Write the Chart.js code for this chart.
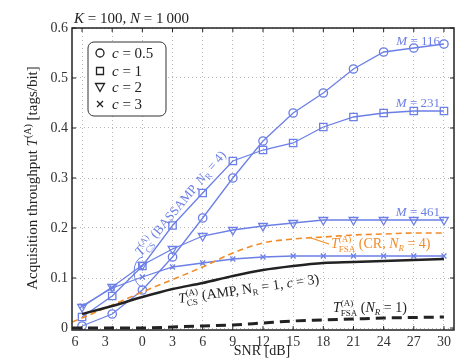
<!DOCTYPE html>
<html>
<head>
<meta charset="utf-8">
<script src="https://cdn.jsdelivr.net/npm/chart.js@4.4.0/dist/chart.umd.min.js"></script>
<style>
  html, body { margin: 0; padding: 0; background: #fff; }
  #wrap { width: 474px; height: 363px; }
</style>
</head>
<body>
<div id="wrap"><canvas id="chart" width="474" height="363"></canvas></div>
<script>
'use strict';

// SNR grid of the simulated points
var snr = [-6, -3, 0, 3, 6, 9, 12, 15, 18, 21, 24, 27, 30];
var snrFsa = [-7, -6, -3, 0, 3, 6, 9, 12, 15, 18, 21, 24, 27, 30];

// BASSAMP, N_R = 4
var csC05 = [0.004, 0.028, 0.076, 0.142, 0.22, 0.30, 0.374, 0.43, 0.47, 0.518, 0.552, 0.56, 0.568];
var csC1 = [0.022, 0.064, 0.124, 0.205, 0.27, 0.334, 0.356, 0.37, 0.402, 0.422, 0.43, 0.434, 0.434];
var csC2 = [0.042, 0.082, 0.126, 0.158, 0.184, 0.196, 0.204, 0.21, 0.216, 0.216, 0.216, 0.216, 0.216];
var csC3 = [0.044, 0.08, 0.102, 0.122, 0.13, 0.138, 0.142, 0.144, 0.144, 0.144, 0.144, 0.144, 0.144];

// AMP, N_R = 1, c = 3
var ampC3 = [0.028, 0.044, 0.062, 0.078, 0.09, 0.104, 0.116, 0.124, 0.13, 0.132, 0.134, 0.136, 0.138];

// FSA curves
var fsaCr = [0.012, 0.02, 0.046, 0.072, 0.097, 0.122, 0.15, 0.17, 0.178, 0.182, 0.186, 0.188, 0.19, 0.19];
var fsa1 = [0, 0, 0, 0, 0.002, 0.004, 0.006, 0.01, 0.014, 0.016, 0.018, 0.02, 0.021, 0.022];

var xTicks = [-6, -3, 0, 3, 6, 9, 12, 15, 18, 21, 24, 27, 30];
var yTicks = [0, 0.1, 0.2, 0.3, 0.4, 0.5, 0.6];

var blue = '#6b7fe6';
var orange = '#f08c28';
var dark = '#222';
var serif = '"Liberation Serif", "DejaVu Serif", serif';

function f(size, italic) {
    return (italic ? 'italic ' : '') + size + 'px ' + serif;
}

function pts(xs, ys) {
    return xs.map(function (x, i) { return {x: x, y: ys[i]}; });
}

// draws runs of text: [text, font, dy, stackOnPrevious]
function rich(ctx, runs, x, y, o) {
    o = o || {};
    ctx.save();
    ctx.translate(x, y);
    if (o.rot) ctx.rotate(o.rot * Math.PI / 180);
    ctx.fillStyle = o.color || dark;
    ctx.textBaseline = 'alphabetic';
    ctx.textAlign = 'left';
    var cx = 0, ps = 0, pe = 0, items = [];
    runs.forEach(function (r) {
        ctx.font = r[1];
        var w = ctx.measureText(r[0]).width;
        var sx = r[3] ? ps : cx;
        var e = sx + w;
        items.push([r[0], r[1], sx, r[2] || 0]);
        cx = r[3] ? Math.max(pe, e) : e;
        ps = sx;
        pe = e;
    });
    var off = o.align === 'center' ? -cx / 2 : (o.align === 'right' ? -cx : 0);
    items.forEach(function (it) {
        ctx.font = it[1];
        ctx.fillText(it[0], off + it[2], it[3]);
    });
    ctx.restore();
}

function tSym(s, sub) {
    return [['T', f(s, true)], ['(A)', f(Math.round(s * 0.66)), -s * 0.42],
        [sub, f(Math.round(s * 0.66)), s * 0.3, true]];
}

function marker(ctx, style, x, y) {
    ctx.save();
    ctx.strokeStyle = dark;
    ctx.lineWidth = 1.3;
    ctx.beginPath();
    if (style === 'circle') {
        ctx.arc(x, y, 4, 0, Math.PI * 2);
    } else if (style === 'rect') {
        ctx.rect(x - 3.5, y - 3.5, 7, 7);
    } else if (style === 'triangle') {
        ctx.moveTo(x - 4.5, y - 3.5);
        ctx.lineTo(x + 4.5, y - 3.5);
        ctx.lineTo(x, y + 4.5);
        ctx.closePath();
    } else {
        ctx.moveTo(x - 3, y - 3); ctx.lineTo(x + 3, y + 3);
        ctx.moveTo(x + 3, y - 3); ctx.lineTo(x - 3, y + 3);
    }
    ctx.stroke();
    ctx.restore();
}

var decorations = {
    id: 'decorations',
    afterDatasetsDraw: function (chart) {
        var ctx = chart.ctx;
        var a = chart.chartArea;
        var xs = chart.scales.x, ys = chart.scales.y;

        // frame + inward ticks
        ctx.save();
        ctx.strokeStyle = dark;
        ctx.lineWidth = 1.5;
        ctx.strokeRect(a.left, a.top, a.right - a.left, a.bottom - a.top);
        ctx.lineWidth = 1;
        ctx.beginPath();
        xTicks.forEach(function (v) {
            var px = xs.getPixelForValue(v);
            ctx.moveTo(px, a.bottom); ctx.lineTo(px, a.bottom - 4);
            ctx.moveTo(px, a.top); ctx.lineTo(px, a.top + 4);
        });
        yTicks.forEach(function (v) {
            var py = ys.getPixelForValue(v);
            ctx.moveTo(a.left, py); ctx.lineTo(a.left + 4, py);
            ctx.moveTo(a.right, py); ctx.lineTo(a.right - 4, py);
        });
        ctx.stroke();
        ctx.restore();

        // legend box
        ctx.save();
        ctx.beginPath();
        ctx.roundRect(88, 42, 78, 74, 6);
        ctx.fillStyle = '#fff';
        ctx.fill();
        ctx.strokeStyle = '#333';
        ctx.lineWidth = 1;
        ctx.stroke();
        ctx.restore();
        var legendRows = [['circle', '0.5', 53], ['rect', '1', 71], ['triangle', '2', 87], ['cross', '3', 104]];
        legendRows.forEach(function (r) {
            marker(ctx, r[0], 100, r[2]);
            rich(ctx, [['c', f(15, true)], [' = ' + r[1], f(15)]], 112, r[2] + 5);
        });

        // title and axis titles
        rich(ctx, [['K', f(15, true)], [' = 100, ', f(15)], ['N', f(15, true)], [' = 1\u2009000', f(15)]], 74, 23);
        rich(ctx, [['SNR [dB]', f(14)]], 262, 355, {align: 'center'});
        rich(ctx, [['Acquisition throughput ', f(15)], ['T', f(15, true)], ['(A)', f(10), -6],
            [' [tags/bit]', f(15)]], 37, 178, {align: 'center', rot: -90});

        // curve labels
        rich(ctx, [['M', f(13, true)], [' = 116', f(13)]], 440, 45, {align: 'right', color: blue});
        rich(ctx, [['M', f(13, true)], [' = 231', f(13)]], 440, 107, {align: 'right', color: blue});
        rich(ctx, [['M', f(13, true)], [' = 461', f(13)]], 440, 216, {align: 'right', color: blue});

        rich(ctx, tSym(14, 'CS').concat([[' (BASSAMP, ', f(13)], ['N', f(13, true)], ['R', f(9), 3],
            [' = 4)', f(13)]]), 141, 257, {rot: -50, color: blue});
        ctx.save();
        ctx.strokeStyle = blue;
        ctx.lineWidth = 1;
        ctx.beginPath();
        ctx.ellipse(143, 272, 9, 15, 0, Math.PI * 0.5, Math.PI * 1.5);
        ctx.stroke();
        ctx.restore();

        rich(ctx, tSym(14, 'FSA').concat([[' (CR, ', f(14)], ['N', f(14, true)], ['R', f(9, true), 3],
            [' = 4)', f(14)]]), 331, 248, {color: orange});
        ctx.save();
        ctx.strokeStyle = orange;
        ctx.lineWidth = 1.2;
        ctx.beginPath();
        ctx.moveTo(311, 238);
        ctx.lineTo(329, 244);
        ctx.stroke();
        ctx.restore();

        rich(ctx, tSym(14, 'CS').concat([[' (AMP, N', f(14)], ['R', f(9), 3], [' = 1, ', f(14)],
            ['c', f(14, true)], [' = 3)', f(14)]]), 179, 303, {rot: -8});

        rich(ctx, tSym(14, 'FSA').concat([[' (', f(14)], ['N', f(14, true)], ['R', f(9, true), 3],
            [' = 1)', f(14)]]), 333, 312);
    }
};

function blueSet(data, style, radius, rotation) {
    return {
        data: pts(snr, data),
        borderColor: blue,
        borderWidth: 1.3,
        pointStyle: style,
        pointRadius: radius,
        pointRotation: rotation || 0,
        pointBorderColor: blue,
        pointBackgroundColor: 'rgba(0,0,0,0)',
        pointBorderWidth: 1.3,
        tension: 0
    };
}

new Chart(document.getElementById('chart'), {
    type: 'line',
    data: {
        datasets: [
            {
                data: pts(snrFsa, fsa1),
                borderColor: dark,
                borderWidth: 3,
                borderDash: [10, 6],
                pointRadius: 0,
                cubicInterpolationMode: 'monotone'
            },
            {
                data: pts(snr, ampC3),
                borderColor: dark,
                borderWidth: 2.5,
                pointRadius: 0,
                cubicInterpolationMode: 'monotone'
            },
            {
                data: pts(snrFsa, fsaCr),
                borderColor: orange,
                borderWidth: 1.6,
                borderDash: [6, 4],
                pointRadius: 0,
                cubicInterpolationMode: 'monotone'
            },
            blueSet(csC3, 'crossRot', 3.5),
            blueSet(csC2, 'triangle', 5, 180),
            blueSet(csC1, 'rect', 5.2),
            blueSet(csC05, 'circle', 4.2)
        ]
    },
    options: {
        responsive: false,
        animation: false,
        events: [],
        layout: {padding: {left: 0, right: 20, top: 28, bottom: 0}},
        plugins: {legend: {display: false}, tooltip: {enabled: false}},
        scales: {
            x: {
                type: 'linear',
                min: -7,
                max: 31,
                afterBuildTicks: function (s) { s.ticks = xTicks.map(function (v) { return {value: v}; }); },
                afterFit: function (s) { s.height = 33; },
                grid: {color: '#b8b8b8', lineWidth: 1, drawTicks: false},
                border: {display: false, dash: [1, 3]},
                ticks: {
                    padding: 4,
                    color: '#333',
                    font: {family: serif, size: 14},
                    maxRotation: 0,
                    callback: function (v) { return String(Math.abs(v)) + (v < 0 ? '\u2002\u2002' : ''); }
                }
            },
            y: {
                type: 'linear',
                min: -0.004,
                max: 0.6,
                afterBuildTicks: function (s) { s.ticks = yTicks.map(function (v) { return {value: v}; }); },
                afterFit: function (s) { s.width = 72; },
                grid: {color: '#b8b8b8', lineWidth: 1, drawTicks: false},
                border: {display: false, dash: [1, 3]},
                ticks: {
                    padding: 4,
                    color: '#333',
                    font: {family: serif, size: 14},
                    callback: function (v) { return v === 0 ? '0' : v.toFixed(1); }
                }
            }
        }
    },
    plugins: [decorations]
});
</script>
</body>
</html>
